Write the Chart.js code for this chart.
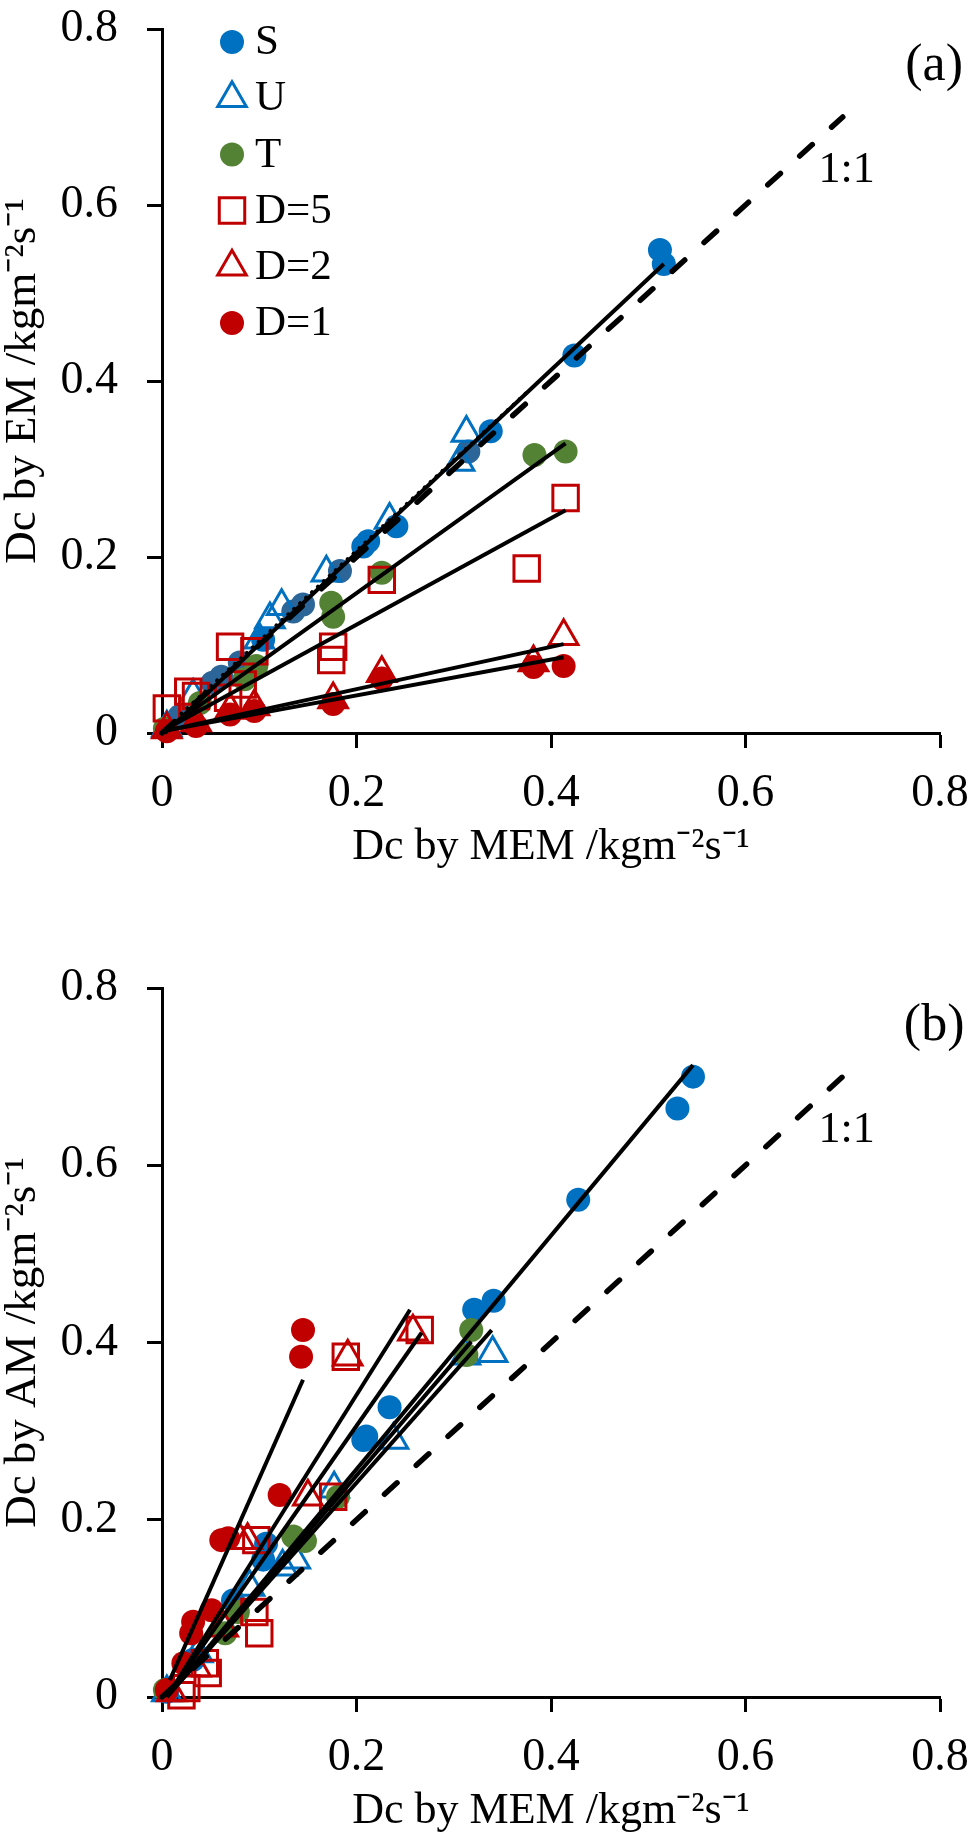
<!DOCTYPE html>
<html>
<head>
<meta charset="utf-8">
<script src="https://cdn.jsdelivr.net/npm/chart.js@4/dist/chart.umd.min.js"></script>
<style>
html, body { margin: 0; padding: 0; background: #ffffff; }
#wrap { position: relative; width: 969px; height: 1837px; }
#ca { position: absolute; left: 0; top: 0; }
#cb { position: absolute; left: 0; top: 900px; }
</style>
</head>
<body>
<div id="wrap">
  <canvas id="ca" width="969" height="900"></canvas>
  <canvas id="cb" width="969" height="937"></canvas>
</div>
<script>
// ---------------- data ----------------
const tickValues = [0, 0.2, 0.4, 0.6, 0.8];
const tickLabels = ['0', '0.2', '0.4', '0.6', '0.8'];
const seriesNames = ['S', 'U', 'T', 'D=5', 'D=2', 'D=1'];
const xTitle = 'Dc by MEM /kgm\u207B\u00B2s\u207B\u00B9';
const yTitleA = 'Dc by EM /kgm\u207B\u00B2s\u207B\u00B9';
const yTitleB = 'Dc by AM /kgm\u207B\u00B2s\u207B\u00B9';

// panel (a): EM vs MEM
const a_S_x  = [0.005, 0.104, 0.207, 0.212, 0.241, 0.338, 0.424, 0.512, 0.516];
const a_S_y  = [0.004, 0.106, 0.212, 0.218, 0.235, 0.343, 0.429, 0.549, 0.533];
const a_S2_x = [0.018, 0.052, 0.061, 0.080, 0.135, 0.145, 0.183, 0.315];
const a_S2_y = [0.019, 0.057, 0.064, 0.080, 0.138, 0.146, 0.184, 0.320];
const a_U_x  = [0.005, 0.032, 0.100, 0.111, 0.123, 0.169, 0.234, 0.306, 0.313];
const a_U_y  = [0.006, 0.042, 0.106, 0.129, 0.144, 0.182, 0.242, 0.308, 0.341];
const a_T_x  = [0.003, 0.039, 0.085, 0.097, 0.174, 0.176, 0.226, 0.383, 0.415];
const a_T_y  = [0.005, 0.034, 0.061, 0.076, 0.148, 0.132, 0.182, 0.316, 0.320];
const a_D5_x = [0.005, 0.027, 0.035, 0.068, 0.070, 0.083, 0.095, 0.174, 0.176, 0.226, 0.375, 0.415];
const a_D5_y = [0.028, 0.047, 0.042, 0.040, 0.098, 0.055, 0.093, 0.083, 0.098, 0.174, 0.187, 0.267];
const a_D2_x = [0.005, 0.035, 0.070, 0.095, 0.176, 0.226, 0.382, 0.413];
const a_D2_y = [0.004, 0.012, 0.026, 0.030, 0.038, 0.068, 0.080, 0.110];
const a_D1_x = [0.005, 0.035, 0.070, 0.095, 0.176, 0.226, 0.382, 0.413];
const a_D1_y = [0.002, 0.008, 0.021, 0.025, 0.033, 0.062, 0.075, 0.076];
const a_fit_S  = [[0.003, 0.000], [0.516, 0.533]];
const a_fit_U  = [[0.020, 0.022], [0.378, 0.390]];
const a_fit_T  = [[0.003, 0.003], [0.415, 0.329]];
const a_fit_D5 = [[0.005, 0.005], [0.415, 0.253]];
const a_fit_D2 = [[0.005, 0.003], [0.413, 0.101]];
const a_fit_D1 = [[0.005, 0.003], [0.413, 0.086]];

// panel (b): AM vs MEM
const b_S_x  = [0.005, 0.032, 0.073, 0.104, 0.107, 0.207, 0.210, 0.234, 0.321, 0.341, 0.428, 0.530, 0.546];
const b_S_y  = [0.006, 0.042, 0.109, 0.155, 0.173, 0.290, 0.294, 0.327, 0.437, 0.447, 0.561, 0.664, 0.700];
const b_U_x  = [0.005, 0.037, 0.090, 0.124, 0.137, 0.177, 0.238, 0.312, 0.340];
const b_U_y  = [0.005, 0.049, 0.124, 0.147, 0.155, 0.235, 0.290, 0.385, 0.388];
const b_T_x  = [0.003, 0.065, 0.078, 0.135, 0.147, 0.181, 0.313, 0.318];
const b_T_y  = [0.008, 0.072, 0.096, 0.181, 0.176, 0.226, 0.386, 0.414];
const b_D5_x = [0.020, 0.025, 0.044, 0.047, 0.095, 0.097, 0.100, 0.176, 0.189, 0.265];
const b_D5_y = [0.002, 0.010, 0.038, 0.027, 0.096, 0.177, 0.072, 0.226, 0.384, 0.414];
const b_D2_x = [0.010, 0.035, 0.063, 0.080, 0.088, 0.150, 0.191, 0.258];
const b_D2_y = [0.005, 0.033, 0.078, 0.177, 0.177, 0.226, 0.384, 0.412];
const b_D1_x = [0.005, 0.022, 0.030, 0.032, 0.051, 0.061, 0.068, 0.121, 0.143, 0.145];
const b_D1_y = [0.008, 0.038, 0.072, 0.085, 0.098, 0.177, 0.179, 0.228, 0.384, 0.414];
const b_fit_S  = [[0.005, 0.000], [0.546, 0.713]];
const b_fit_U  = [[0.005, 0.000], [0.339, 0.414]];
const b_fit_T  = [[0.005, 0.000], [0.318, 0.401]];
const b_fit_D5 = [[0.005, 0.000], [0.267, 0.411]];
const b_fit_D2 = [[0.005, 0.000], [0.255, 0.437]];
const b_fit_D1 = [[0.008, 0.019], [0.145, 0.358]];

const oneToOne = [[0, 0], [0.7, 0.7]];

// ---------------- styles ----------------
const FONT = '"Liberation Serif", "Times New Roman", serif';
const BLUE = '#0070C0', DARKBLUE = '#2C6598', GREEN = '#548235', RED = '#C00000';
const STY = {
  'S':   { pointStyle: 'circle',   radius: 12, fill: BLUE,  stroke: null },
  'U':   { pointStyle: 'triangle', radius: 16.5, fill: null,  stroke: BLUE },
  'T':   { pointStyle: 'circle',   radius: 12, fill: GREEN, stroke: null },
  'D=5': { pointStyle: 'rect',     radius: 18, fill: null,  stroke: RED },
  'D=2': { pointStyle: 'triangle', radius: 16.5, fill: null,  stroke: RED },
  'D=1': { pointStyle: 'circle',   radius: 12, fill: RED,   stroke: null },
  'S2':  { pointStyle: 'circle',   radius: 12, fill: DARKBLUE, stroke: null }
};
const FIT_W = 4;

const zip = (xs, ys) => xs.map((x, i) => ({ x: x, y: ys[i] }));
const seg = pts => pts.map(p => ({ x: p[0], y: p[1] }));

function pointSet(label, key, xs, ys, order) {
  const s = STY[key];
  return {
    label: label,
    data: zip(xs, ys),
    showLine: false,
    pointStyle: s.pointStyle,
    pointRadius: s.radius,
    pointHoverRadius: s.radius,
    pointBackgroundColor: s.fill || 'rgba(0,0,0,0)',
    backgroundColor: s.fill || 'rgba(0,0,0,0)',
    pointBorderColor: s.stroke || 'rgba(0,0,0,0)',
    borderColor: s.stroke || 'rgba(0,0,0,0)',
    pointBorderWidth: s.stroke ? 3 : 0,
    borderWidth: s.stroke ? 3 : 0,
    clip: false,
    order: order
  };
}
function lineSet(label, pts, width, dash, order) {
  return {
    label: label,
    data: seg(pts),
    showLine: true,
    pointRadius: 0,
    pointHoverRadius: 0,
    borderColor: '#000000',
    backgroundColor: '#000000',
    borderWidth: width,
    borderDash: dash || [],
    borderCapStyle: dash ? 'round' : 'butt',
    fill: false,
    clip: false,
    order: order
  };
}

function drawMarker(ctx, st, x, y) {
  const r = st.radius;
  ctx.beginPath();
  if (st.pointStyle === 'circle') {
    ctx.arc(x, y, r, 0, Math.PI * 2);
  } else if (st.pointStyle === 'triangle') {
    for (let k = 0; k < 3; k++) {
      const a = k * 2 * Math.PI / 3;
      const px = x + Math.sin(a) * r, py = y - Math.cos(a) * r;
      if (k === 0) ctx.moveTo(px, py); else ctx.lineTo(px, py);
    }
    ctx.closePath();
  } else {
    const s = r * Math.SQRT1_2;
    ctx.rect(x - s, y - s, 2 * s, 2 * s);
  }
  if (st.fill) { ctx.fillStyle = st.fill; ctx.fill(); }
  if (st.stroke) { ctx.strokeStyle = st.stroke; ctx.lineWidth = 3; ctx.stroke(); }
}

const marksPlugin = {
  id: 'marks',
  afterDatasetsDraw(chart, args, opts) {
    const ctx = chart.ctx, xs = chart.scales.x, ys = chart.scales.y;
    ctx.save();
    (opts.labels || []).forEach(l => {
      ctx.font = l.size + 'px ' + FONT;
      ctx.fillStyle = '#000000';
      ctx.textAlign = 'center';
      ctx.textBaseline = 'middle';
      ctx.fillText(l.text, xs.getPixelForValue(l.x), ys.getPixelForValue(l.y));
    });
    if (opts.legend) {
      const lg = opts.legend;
      const ca = chart.chartArea;
      seriesNames.forEach((name, i) => {
        const mx = ca.left + lg.dx, my = ca.top + lg.dy + i * lg.step;
        drawMarker(ctx, STY[name], mx, my);
        ctx.font = lg.size + 'px ' + FONT;
        ctx.fillStyle = '#000000';
        ctx.textAlign = 'left';
        ctx.textBaseline = 'middle';
        ctx.fillText(name, mx + lg.textGap, my + 1);
      });
    }
    ctx.restore();
  }
};

function axis(title, titleFont, titlePad, isX, size, tickPad) {
  return {
    type: 'linear',
    min: 0, max: 0.8,
    afterBuildTicks: s => { s.ticks = tickValues.map(v => ({ value: v })); },
    afterFit: s => {
      if (isX) { s.height = size; } else { s.width = size; }
      s.paddingLeft = 0; s.paddingRight = 0; s.paddingTop = 0; s.paddingBottom = 0;
    },
    ticks: {
      color: '#000000',
      font: { family: FONT, size: 46, lineHeight: 1.2 },
      padding: tickPad,
      maxRotation: 0, minRotation: 0,
      autoSkip: false,
      callback: v => tickLabels[tickValues.indexOf(v)]
    },
    grid: { display: true, drawOnChartArea: false, drawTicks: true, tickLength: 15, tickWidth: 3, tickColor: '#000000' },
    border: { display: true, width: 3, color: '#000000' },
    title: { display: true, text: title, color: '#000000', font: titleFont, padding: titlePad }
  };
}

function makeChart(id, datasets, opts) {
  return new Chart(document.getElementById(id), {
    type: 'scatter',
    data: { datasets: datasets },
    plugins: [marksPlugin],
    options: {
      responsive: false,
      animation: false,
      events: [],
      devicePixelRatio: 1,
      layout: { autoPadding: false, padding: { left: 0, right: 29, top: opts.top, bottom: 0 } },
      scales: {
        x: axis(xTitle, { family: FONT, size: 44, lineHeight: 1.15 }, { top: 0, bottom: opts.xTitleBottom }, true, opts.xHeight, 18),
        y: axis(opts.yTitle, { family: FONT, size: 45, lineHeight: 1.0 }, { top: 1, bottom: 0 }, false, 162, 29)
      },
      plugins: {
        legend: { display: false },
        tooltip: { enabled: false },
        marks: opts.marks
      }
    }
  });
}

// ---------------- panel (a) ----------------
makeChart('ca', [
  lineSet('1:1', oneToOne, 5.5, [17, 26], 0),
  lineSet('S fit', a_fit_S, FIT_W, null, 1),
  lineSet('U fit', a_fit_U, FIT_W, [0.1, 8], 1),
  lineSet('T fit', a_fit_T, FIT_W, null, 1),
  lineSet('D=5 fit', a_fit_D5, FIT_W, null, 1),
  lineSet('D=2 fit', a_fit_D2, FIT_W, null, 1),
  lineSet('D=1 fit', a_fit_D1, FIT_W, null, 1),
  pointSet('D=1', 'D=1', a_D1_x, a_D1_y, 2),
  pointSet('D=2', 'D=2', a_D2_x, a_D2_y, 3),
  pointSet('D=5', 'D=5', a_D5_x, a_D5_y, 4),
  pointSet('T', 'T', a_T_x, a_T_y, 5),
  pointSet('U', 'U', a_U_x, a_U_y, 6),
  pointSet('S', 'S', a_S_x, a_S_y, 7),
  pointSet('S ', 'S2', a_S2_x, a_S2_y, 8)
], {
  top: 29, xHeight: 167, xTitleBottom: 27.7, yTitle: yTitleA,
  marks: {
    labels: [
      { text: '(a)', x: 0.794, y: 0.757, size: 52 },
      { text: '1:1', x: 0.704, y: 0.639, size: 44 }
    ],
    legend: { dx: 70, dy: 13, step: 56.2, size: 43, textGap: 23 }
  }
});

// ---------------- panel (b) ----------------
makeChart('cb', [
  lineSet('1:1', oneToOne, 5.5, [17, 26], 0),
  lineSet('S fit', b_fit_S, FIT_W, null, 1),
  lineSet('U fit', b_fit_U, FIT_W, null, 1),
  lineSet('T fit', b_fit_T, FIT_W, null, 1),
  lineSet('D=5 fit', b_fit_D5, FIT_W, null, 1),
  lineSet('D=2 fit', b_fit_D2, FIT_W, null, 1),
  lineSet('D=1 fit', b_fit_D1, FIT_W, null, 1),
  pointSet('D=1', 'D=1', b_D1_x, b_D1_y, 2),
  pointSet('D=2', 'D=2', b_D2_x, b_D2_y, 3),
  pointSet('D=5', 'D=5', b_D5_x, b_D5_y, 4),
  pointSet('T', 'T', b_T_x, b_T_y, 5),
  pointSet('U', 'U', b_U_x, b_U_y, 6),
  pointSet('S', 'S', b_S_x, b_S_y, 7)
], {
  top: 88, xHeight: 140, xTitleBottom: 0, yTitle: yTitleB,
  marks: {
    labels: [
      { text: '(b)', x: 0.794, y: 0.757, size: 52 },
      { text: '1:1', x: 0.704, y: 0.639, size: 44 }
    ]
  }
});
</script>
</body>
</html>
